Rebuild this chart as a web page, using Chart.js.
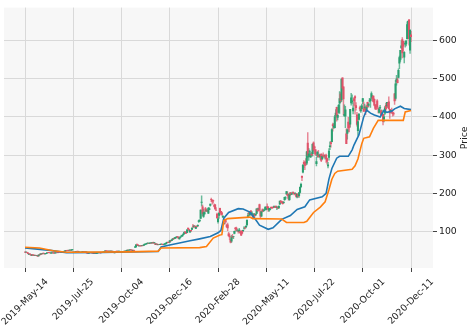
<!DOCTYPE html>
<html>
<head>
<meta charset="utf-8">
<script src="https://cdn.jsdelivr.net/npm/chart.js@4/dist/chart.umd.min.js"></script>
<style>
  html, body { margin: 0; padding: 0; background: #ffffff; }
  canvas { display: block; }
</style>
</head>
<body>
<canvas id="chart" width="474" height="331"></canvas>
<script>
// Trading-day positions of the date ticks and their labels
const tickIdx = [0, 50, 100, 150, 200, 250, 300, 350, 400];
const tickLabels = ['2019-May-14', '2019-Jul-25', '2019-Oct-04', '2019-Dec-16', '2020-Feb-28',
                    '2020-May-11', '2020-Jul-22', '2020-Oct-01', '2020-Dec-11'];
const priceTicks = [100, 200, 300, 400, 500, 600];

// Daily OHLC, one entry per trading day starting 2019-May-14
const opens = [
  46.6,46.2,46.1,44.3,40.6,41.8,40.0,37.5,39.1,38.5,
  37.4,38.0,37.0,37.1,36.3,39.6,40.4,41.9,42.2,44.0,
  42.7,41.6,42.6,44.1,45.6,45.6,44.6,43.9,44.5,44.8,
  44.2,44.0,44.5,46.0,45.9,48.0,47.0,46.3,45.7,46.6,
  48.2,47.9,49.3,50.9,51.0,50.8,51.2,51.6,51.4,52.4,
  46.6,45.5,45.8,46.8,48.6,48.5,46.5,46.0,45.7,45.5,
  47.3,47.6,46.3,45.7,46.3,43.9,43.4,44.3,45.0,44.5,
  44.2,43.6,42.9,43.2,42.6,43.6,44.6,44.8,44.9,44.6,
  45.9,46.2,46.0,47.2,49.4,49.3,49.0,48.6,48.9,48.7,
  49.2,48.0,48.5,44.8,46.3,48.8,48.6,48.3,48.6,46.6,
  46.6,46.0,47.5,48.4,49.0,49.5,49.6,51.8,51.6,52.3,
  52.3,51.7,50.9,51.0,59.3,59.7,65.6,65.2,62.8,63.0,
  63.1,62.9,63.7,63.6,65.7,67.3,68.0,69.2,69.5,69.4,
  70.1,70.2,70.3,72.0,70.7,68.9,66.5,67.3,66.1,66.2,
  65.9,67.0,67.2,66.4,66.6,67.4,68.0,70.5,72.0,71.9,
  72.6,76.8,76.4,79.5,82.1,82.4,83.7,85.6,87.0,85.8,
  81.0,84.9,88.1,88.1,92.3,94.7,99.4,96.4,97.2,108.9,
  105.2,98.8,103.3,106.0,114.4,112.8,114.3,108.4,113.7,115.1,
  126.4,128.0,134.7,176.6,164.7,139.9,146.1,160.0,153.8,155.0,
  148.4,157.4,168.3,184.7,182.4,181.4,167.8,169.8,156.5,146.0,
  125.9,142.3,161.0,152.8,148.9,138.0,121.1,132.4,128.1,116.2,
  118.0,93.9,88.0,77.8,74.9,87.2,86.5,95.5,109.1,109.2,
  101.9,102.1,100.3,100.8,96.2,101.9,102.2,109.0,110.8,112.4,
  118.0,139.8,148.4,143.4,154.5,146.0,145.0,140.8,145.5,143.4,
  147.6,158.1,158.0,171.0,151.0,140.2,157.0,156.0,155.3,158.6,
  158.0,165.4,164.2,156.0,158.1,163.6,163.8,164.1,164.1,164.4,
  166.9,163.2,162.7,161.8,171.6,178.9,177.6,177.0,175.6,183.8,
  188.0,198.4,198.0,196.0,183.6,202.4,197.5,199.9,202.6,199.7,
  199.5,198.8,190.9,198.2,193.8,202.4,216.6,244.3,255.3,281.0,
  281.0,279.4,279.2,331.8,295.4,308.6,295.4,302.0,303.8,332.0,
  321.6,313.9,277.5,297.6,300.8,299.5,296.0,303.0,290.0,299.0,
  300.0,297.9,299.9,291.2,272.0,294.0,322.2,333.0,335.4,379.8,
  373.0,372.1,404.1,425.3,399.0,412.0,436.1,459.0,444.6,502.1,
  478.9,402.8,402.8,356.0,356.6,386.2,381.9,380.9,436.6,439.9,
  415.6,447.9,453.1,429.6,405.2,363.8,393.5,424.6,416.0,421.3,
  440.8,421.4,423.4,423.8,419.9,438.4,430.1,442.0,442.0,449.8,
  450.3,454.4,446.2,431.8,422.7,441.9,421.8,411.6,423.8,416.5,
  409.9,406.9,394.0,409.7,430.6,429.0,436.1,439.5,420.1,416.5,
  415.1,410.9,408.9,460.2,448.4,492.0,497.0,503.5,540.4,550.1,
  581.2,602.2,597.6,556.4,590.0,591.0,604.9,625.5,653.7,574.4,
  615.0
];
const highs = [
  47.0,47.3,46.4,44.7,41.6,41.9,40.2,39.2,39.9,39.0,
  38.4,38.6,37.6,37.3,39.0,39.9,42.2,42.1,43.2,44.1,
  43.1,43.1,43.4,45.5,46.0,45.7,45.0,44.6,45.1,45.2,
  44.8,44.8,45.0,46.5,46.0,48.3,47.4,46.7,46.3,48.0,
  48.4,49.2,51.0,51.1,51.7,51.1,52.3,52.0,52.2,53.5,
  47.4,46.1,47.4,48.6,49.0,48.9,47.2,46.1,46.3,46.8,
  47.9,47.9,47.0,47.3,46.5,44.2,44.3,45.7,45.6,44.7,
  45.0,44.0,43.1,43.6,43.3,44.5,45.4,45.6,45.0,46.0,
  46.0,47.0,47.2,49.9,50.0,49.6,49.1,49.2,49.2,49.9,
  49.3,48.9,48.6,46.0,48.7,49.0,49.0,49.2,48.8,47.0,
  46.9,47.7,48.4,49.2,49.4,50.2,51.7,52.0,52.4,52.9,
  52.5,51.9,51.5,51.4,60.8,66.0,68.0,65.6,63.7,63.2,
  63.5,64.2,64.4,65.4,67.6,67.6,69.5,70.6,70.3,70.2,
  70.6,70.6,72.2,72.5,71.4,69.3,68.1,67.5,66.6,66.4,
  67.5,67.6,67.5,66.7,67.5,69.2,70.3,72.4,72.4,73.0,
  76.7,77.1,79.0,81.5,82.6,84.4,85.1,86.7,87.1,86.0,
  84.3,86.1,90.8,90.5,94.3,99.7,99.8,96.7,105.1,109.5,
  106.5,103.6,103.6,109.7,119.1,116.4,114.8,112.9,115.3,117.9,
  130.2,130.6,157.2,193.8,169.2,159.2,152.6,163.6,158.6,157.0,
  163.6,162.6,172.0,188.0,182.6,182.2,172.7,171.6,162.6,148.6,
  138.4,149.0,161.4,153.2,151.4,141.4,130.4,133.0,130.6,118.9,
  122.0,98.0,94.4,80.9,90.4,93.1,87.0,101.4,111.4,112.0,
  106.3,102.5,108.6,102.8,98.9,103.1,104.2,113.0,111.4,115.0,
  130.4,148.4,152.4,151.9,154.9,153.1,145.8,146.8,147.9,146.0,
  159.9,161.6,161.3,172.0,154.6,152.4,159.3,157.0,159.3,164.8,
  164.8,172.4,165.6,160.7,160.7,164.8,164.4,164.4,167.5,166.4,
  166.9,165.0,164.5,167.0,179.8,181.7,179.6,179.2,178.0,190.0,
  191.8,205.5,203.8,197.6,199.8,203.0,201.0,203.2,203.8,200.6,
  202.4,199.9,198.0,199.0,202.0,217.2,227.1,245.6,275.6,285.9,
  283.5,290.9,309.8,359.0,318.0,313.1,306.3,307.5,330.0,335.0,
  323.5,315.0,294.6,309.5,312.9,303.0,302.4,303.4,301.0,306.0,
  301.0,300.4,302.6,292.4,281.4,317.0,335.0,336.0,369.2,384.0,
  382.6,404.4,419.1,425.8,405.6,433.2,466.0,463.7,500.1,502.5,
  479.0,431.8,428.0,368.7,369.0,398.9,382.5,420.0,461.9,457.8,
  437.8,451.0,455.7,437.8,412.2,399.5,408.7,428.1,428.5,433.9,
  448.9,439.1,433.6,428.8,429.9,439.0,434.5,448.7,448.0,465.9,
  456.6,455.0,447.0,431.8,432.9,445.2,422.9,425.8,430.5,418.7,
  418.1,407.6,406.9,427.8,435.4,438.4,436.4,452.5,420.1,418.7,
  423.0,412.5,412.5,462.0,496.0,508.6,502.5,526.0,559.0,574.0,
  598.8,607.8,597.9,571.0,598.0,599.2,648.8,651.3,654.3,627.8,
  624.0
];
const lows = [
  45.6,45.9,45.4,42.1,40.0,39.5,38.4,37.3,37.9,37.6,
  36.8,37.5,36.8,35.4,35.7,38.0,39.6,40.6,41.9,42.6,
  41.5,41.4,42.3,43.9,44.5,44.6,43.4,43.6,44.2,43.8,
  43.6,43.8,44.2,45.0,44.5,46.5,46.0,45.6,45.4,46.4,
  47.0,47.6,49.1,49.9,50.6,50.1,51.0,50.8,51.0,51.9,
  45.3,45.1,45.6,46.6,47.8,46.4,46.1,44.6,45.0,45.1,
  46.9,46.9,45.7,45.5,43.8,42.8,43.2,44.2,44.9,43.8,
  43.6,42.2,42.0,42.5,42.0,43.5,44.3,44.6,43.6,44.4,
  45.0,45.6,45.5,47.1,48.8,48.6,48.3,48.3,48.2,48.6,
  47.8,47.8,44.4,43.9,46.0,47.7,47.9,48.0,47.8,44.9,
  45.9,45.9,47.2,48.1,48.6,49.3,49.6,50.9,51.4,51.9,
  51.2,50.4,50.4,50.1,58.3,59.2,64.5,62.9,61.8,62.2,
  62.0,62.3,62.8,62.9,65.1,66.4,67.7,68.9,68.8,69.0,
  69.6,69.2,70.1,70.0,70.0,65.8,66.2,65.1,65.4,65.6,
  65.7,66.6,66.3,65.6,66.4,67.3,67.5,70.1,71.0,71.1,
  72.3,75.2,76.1,79.1,80.0,82.0,82.5,85.3,85.2,82.0,
  80.4,84.3,87.4,88.0,90.7,93.6,94.6,94.7,96.9,104.1,
  101.6,98.6,100.6,104.8,109.6,111.1,110.9,107.9,111.6,113.6,
  124.0,126.5,134.4,166.8,140.8,137.4,145.7,152.0,152.8,152.0,
  147.0,157.1,166.5,178.3,171.7,174.8,164.4,157.2,155.2,135.2,
  122.3,134.6,143.2,144.9,142.3,136.9,120.6,118.8,122.0,111.1,
  102.4,88.4,79.2,70.1,71.7,83.3,81.8,94.0,101.4,102.9,
  101.0,95.8,99.4,95.0,89.3,93.7,99.6,106.5,106.7,109.9,
  114.6,138.5,142.6,141.6,144.9,142.4,133.6,137.7,140.6,141.4,
  146.7,151.7,155.6,152.5,136.6,139.6,151.7,152.2,154.3,157.4,
  157.0,161.7,152.7,152.8,157.0,160.5,161.2,162.2,162.5,162.4,
  163.3,157.3,160.0,160.8,170.8,174.0,175.0,171.7,174.0,181.8,
  185.0,196.5,194.4,182.5,181.7,194.5,196.5,198.0,198.9,196.0,
  198.8,190.2,188.4,190.1,189.7,200.9,216.1,233.0,253.2,267.3,
  262.3,273.1,275.2,294.2,286.2,296.2,293.2,298.0,297.6,310.5,
  304.2,299.4,272.0,294.6,295.2,294.2,288.8,282.9,288.8,295.0,
  292.5,289.8,280.9,276.6,266.3,287.0,314.3,321.0,334.6,362.6,
  370.0,371.5,400.0,388.6,392.2,409.4,409.0,437.3,440.1,470.5,
  405.1,402.0,372.0,329.9,341.5,360.6,360.5,373.3,430.7,435.3,
  408.0,428.8,407.1,417.6,375.9,351.3,391.3,415.6,411.6,420.5,
  434.4,413.6,419.3,406.1,413.8,425.4,426.3,438.6,425.0,447.4,
  442.5,438.9,428.9,419.1,419.1,424.5,410.6,410.0,420.1,406.0,
  406.8,379.1,386.6,406.7,417.1,424.8,424.3,421.0,396.0,410.6,
  409.5,401.7,404.0,433.0,443.5,482.8,489.1,501.8,526.3,545.4,
  578.5,554.5,572.1,541.2,582.4,585.5,603.1,618.5,588.0,566.3,
  596.8
];
const closes = [
  46.46,46.39,45.67,42.21,41.07,41.02,38.55,39.10,38.13,37.74,
  37.97,37.64,37.03,35.79,38.72,39.32,41.78,40.90,42.58,43.42,
  41.85,42.78,42.98,45.01,44.95,45.29,43.92,44.37,44.73,43.95,
  43.85,44.57,44.69,45.43,44.91,46.98,46.62,46.07,46.01,47.78,
  47.72,49.02,50.70,50.48,50.97,50.71,51.64,51.14,52.03,52.98,
  45.76,45.61,47.15,48.45,48.32,46.77,46.87,45.66,46.15,46.68,
  47.66,47.00,45.80,47.00,43.92,43.13,43.99,45.37,45.17,44.17,
  44.43,42.28,43.00,42.82,43.12,44.34,45.12,45.00,44.14,45.92,
  45.49,46.36,47.11,49.42,49.17,49.04,48.56,48.96,48.70,49.32,
  48.12,48.25,44.64,45.74,48.51,48.43,48.17,48.94,48.63,46.61,
  46.29,47.54,48.01,48.91,48.95,49.58,51.39,51.58,51.95,52.39,
  51.39,50.70,51.12,50.94,59.94,65.63,65.54,63.24,63.00,62.98,
  62.66,63.49,63.44,65.32,67.11,67.43,69.02,69.99,69.22,69.87,
  70.43,70.00,71.90,70.44,70.97,66.61,67.27,65.78,66.26,65.99,
  66.97,67.24,66.61,66.07,67.18,67.91,69.77,71.94,71.68,71.68,
  76.30,75.80,78.63,80.81,81.12,83.84,85.05,86.19,86.08,82.94,
  83.67,86.05,88.60,90.31,93.81,98.43,96.27,95.63,104.97,107.58,
  103.70,102.70,102.10,109.44,113.91,114.44,112.96,111.60,113.38,116.20,
  128.16,130.11,156.00,177.41,146.94,149.79,149.61,154.26,154.88,153.46,
  160.80,160.01,171.68,183.48,179.88,180.20,166.76,159.98,155.76,135.80,
  133.60,148.72,149.10,149.90,144.91,140.70,121.60,129.07,126.85,112.11,
  109.32,89.01,86.04,72.24,85.53,85.51,86.86,101.00,107.85,105.63,
  102.87,100.43,104.80,96.31,90.89,96.00,103.25,109.09,109.77,114.60,
  130.19,141.98,145.97,149.04,150.78,149.27,137.34,146.42,141.13,145.03,
  159.75,153.82,160.10,156.38,140.26,152.24,153.64,156.52,156.01,163.88,
  162.26,161.88,158.19,160.67,159.83,162.73,161.60,163.11,165.52,163.38,
  163.77,164.05,161.16,167.00,179.62,176.31,176.59,172.88,177.13,189.98,
  188.13,205.01,194.57,187.06,198.18,196.43,198.36,200.79,200.18,198.86,
  200.36,192.17,197.20,191.95,201.87,215.96,223.93,241.73,274.32,277.97,
  273.18,278.86,308.93,299.41,303.36,309.20,300.13,300.17,328.60,313.67,
  318.47,302.61,283.40,307.92,295.30,299.82,297.50,286.15,297.00,297.40,
  297.00,297.92,290.54,283.71,274.88,310.95,324.20,330.14,367.13,377.42,
  375.71,400.37,410.00,402.84,404.67,430.63,447.75,442.68,498.32,475.05,
  447.37,407.00,418.32,330.21,366.28,371.34,372.72,419.62,449.76,441.76,
  423.43,442.15,449.39,424.23,380.36,387.79,407.34,421.20,419.07,429.01,
  448.16,415.09,425.68,413.98,425.30,425.92,434.00,442.30,446.65,461.30,
  448.88,439.67,430.83,421.94,422.64,425.79,420.63,420.28,424.68,406.02,
  410.70,388.04,400.51,423.90,420.98,438.09,429.95,421.26,410.36,417.13,
  411.76,408.50,408.09,441.61,486.64,499.27,489.61,521.85,555.38,574.00,
  585.76,567.60,584.76,568.82,593.38,599.04,641.76,649.88,604.48,627.07,
  609.99
];

// Two trend lines (blue = faster, orange = slower), given at trading-day positions
const fastIdx = [0, 26, 43, 80, 108, 138, 141, 150, 160, 171, 181, 192, 200, 203, 206, 211, 221, 226, 233,
                 238, 243, 252, 257, 266, 275, 282, 290, 295, 308, 312, 315, 318, 323, 326, 335, 339, 341,
                 346, 351, 354, 358, 362, 368, 372, 375, 380, 383, 389, 393, 400];
const fastVal = [57.5, 51, 45, 45.5, 47, 48, 60, 65, 70, 76, 81, 87, 97, 103, 135, 150, 160, 159, 151,
                 135, 117, 106, 110, 132, 142, 158, 165, 183, 191, 200, 238, 265, 292, 297, 297, 314, 327,
                 353, 400, 418, 410, 405, 400, 417, 412, 415, 421, 428, 422, 419];
const slowIdx = [0, 15, 29, 43, 108, 138, 141, 181, 188, 195, 202, 204, 206, 210, 233, 236, 266, 271, 289,
                 292, 299, 306, 311, 315, 318, 321, 324, 339, 342, 345, 349, 351, 357, 361, 366, 392, 394, 400];
const slowVal = [59, 57, 50, 46, 47, 49, 57, 58, 61, 83, 91, 92, 129, 134, 138, 134, 133, 124, 124,
                 127, 150, 164, 178, 210, 237, 252, 258, 263, 272, 290, 330, 344, 348, 370, 391, 391, 413, 417];

const UP = '#2b9f70', DOWN = '#e0546a';
const isUp = closes.map((c, i) => c >= opens[i]);
const bodyColors = isUp.map(u => (u ? UP : DOWN));
const wickColors = isUp.map(u => (u ? 'rgba(43,159,112,0.7)' : 'rgba(224,84,106,0.7)'));

const wickData = closes.map((c, i) => ({ x: i, y: [lows[i], highs[i]] }));
const bodyData = closes.map((c, i) => ({ x: i, y: [opens[i], c] }));
const fastPts = fastIdx.map((x, k) => ({ x, y: fastVal[k] }));
const slowPts = slowIdx.map((x, k) => ({ x, y: slowVal[k] }));

const FONT = '"DejaVu Sans", sans-serif';
const TEXT = '#222222';

// Plot face, rotated date labels and the axis title
const decor = {
  id: 'decor',
  beforeDraw(chart) {
    const { ctx, chartArea: a } = chart;
    ctx.save();
    ctx.fillStyle = '#ffffff';
    ctx.fillRect(0, 0, chart.width, chart.height);
    ctx.fillStyle = '#f7f7f7';
    ctx.fillRect(a.left, a.top, a.right - a.left, a.bottom - a.top);
    ctx.restore();
  },
  afterDraw(chart) {
    const { ctx, chartArea: a } = chart;
    const xs = chart.scales.x;
    ctx.save();
    ctx.font = '9.3px ' + FONT;
    ctx.fillStyle = TEXT;
    ctx.textAlign = 'center';
    ctx.textBaseline = 'middle';
    const h = 10.8;
    tickIdx.forEach((v, k) => {
      const w = ctx.measureText(tickLabels[k]).width;
      const side = (w + h) / Math.SQRT2;
      const cx = xs.getPixelForValue(v);
      const cy = a.bottom + 8.5 + side / 2;
      ctx.save();
      ctx.translate(cx, cy);
      ctx.rotate(-Math.PI / 4);
      ctx.fillText(tickLabels[k], 0, 0);
      ctx.restore();
    });
    ctx.save();
    ctx.translate(chart.width - 9, (a.top + a.bottom) / 2);
    ctx.rotate(-Math.PI / 2);
    ctx.fillText('Price', 0, 0);
    ctx.restore();
    ctx.restore();
  }
};

new Chart(document.getElementById('chart'), {
  type: 'bar',
  data: {
    datasets: [
      { type: 'line', data: slowPts, borderColor: '#ff7f0e', borderWidth: 1.6, pointRadius: 0, tension: 0, order: 0 },
      { type: 'line', data: fastPts, borderColor: '#1f77b4', borderWidth: 1.6, pointRadius: 0, tension: 0, order: 1 },
      { type: 'bar', data: bodyData, backgroundColor: bodyColors, barThickness: 1.4, grouped: false, borderWidth: 0, order: 2 },
      { type: 'bar', data: wickData, backgroundColor: wickColors, barThickness: 0.8, grouped: false, borderWidth: 0, order: 3 }
    ]
  },
  options: {
    responsive: false,
    animation: false,
    devicePixelRatio: 1,
    layout: { padding: { left: 4, top: 3, right: 0, bottom: 0 } },
    plugins: { legend: { display: false }, tooltip: { enabled: false } },
    scales: {
      x: {
        type: 'linear',
        min: -21.8,
        max: 422.8,
        offset: false,
        afterBuildTicks: s => { s.ticks = tickIdx.map(v => ({ value: v })); },
        afterFit: s => { s.height = 63; },
        grid: { offset: false, color: '#d9d9d9', lineWidth: 1, tickColor: '#444', tickLength: 4 },
        border: { display: false },
        ticks: { display: false }
      },
      y: {
        position: 'right',
        min: 4.8,
        max: 686,
        afterBuildTicks: s => { s.ticks = priceTicks.map(v => ({ value: v })); },
        afterFit: s => { s.width = 41; },
        grid: { color: '#d9d9d9', lineWidth: 1, tickColor: '#444', tickLength: 4 },
        border: { display: false },
        ticks: { padding: 2, color: TEXT, font: { family: FONT, size: 9.3 } }
      }
    }
  },
  plugins: [decor]
});
</script>
</body>
</html>
